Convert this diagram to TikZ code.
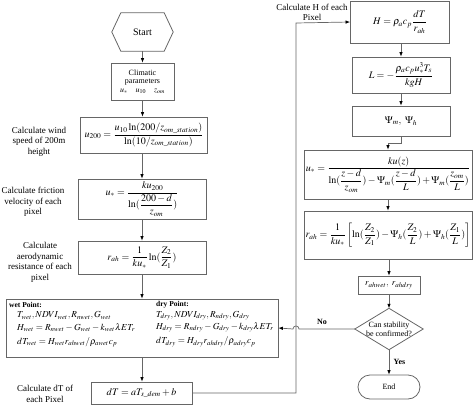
\documentclass[tikz,border=0pt]{standalone}
\usepackage{amsmath}
\usepackage{mathptmx}
\usepackage[no-math]{fontspec}
\setmainfont{Liberation Serif}
\usetikzlibrary{arrows.meta}
\begin{document}
\begin{tikzpicture}[x=1pt,y=-1pt,
 box/.style={draw=black!60, line width=0.8pt, inner sep=0pt, align=center, font=\fontsize{10}{12}\selectfont},
 lab/.style={align=center, font=\fontsize{9}{10.5}\selectfont, inner sep=0pt},
 txt/.style={anchor=west, inner sep=0pt, font=\fontsize{9.2}{11}\selectfont},
 arr/.style={draw=black!60, line width=0.7pt, -{Latex[length=4.5pt,width=3.5pt,color=black]}},
 ln/.style={draw=black!60, line width=0.8pt}]
\useasboundingbox (0,0) rectangle (474,415);

% left column
\node[inner sep=0pt, minimum width=61pt, minimum height=38pt, font=\fontsize{10}{12}\selectfont] (start) at (142.5,32) {Start};
\draw[ln] (start.west) -- ([xshift=9pt]start.north west) -- ([xshift=-9pt]start.north east) -- (start.east) -- ([xshift=-9pt]start.south east) -- ([xshift=9pt]start.south west) -- cycle;

\node[box, minimum width=63pt, minimum height=37pt, font=\fontsize{8}{8.5}\selectfont] (clim) at (142.5,81.5) {Climatic\\parameters\\$u_*\quad u_{10}\quad z_{om}$};

\node[box, minimum width=127pt, minimum height=36pt] (u200) at (144,135) {$u_{200} = \dfrac{u_{10}\ln(200/z_{om\_station})}{\ln(10/z_{om\_station})}$};

\node[box, minimum width=128pt, minimum height=40pt] (ustar) at (142,199) {$u_* = \dfrac{ku_{200}}{\ln(\dfrac{200-d}{z_{om}})}$};

\node[box, minimum width=128pt, minimum height=33pt] (rah) at (142,257.5) {$r_{ah} = \dfrac{1}{ku_*}\ln(\dfrac{Z_2}{Z_1})$};

\node[box, minimum width=272pt, minimum height=58pt] (wd) at (142,328) {};
\node[txt, font=\fontsize{7.5}{9}\selectfont\bfseries] (wetp) at (9,305) {wet Point:};
\node[txt] (w1) at (17,315.5) {$T_{wet}, NDVI_{wet}, R_{nwet}, G_{wet}$};
\node[txt] (w2) at (17,327.5) {$H_{wet} = R_{nwet} - G_{wet} - k_{wet}\lambda ET_r$};
\node[txt] (w3) at (17,342) {$dT_{wet} = H_{wet}r_{ahwet} / \rho_{awet}c_p$};
\node[txt, font=\fontsize{7.5}{9}\selectfont\bfseries] (dryp) at (156,305) {dry Point:};
\node[txt] (d1) at (156,315.5) {$T_{dry}, NDVI_{dry}, R_{ndry}, G_{dry}$};
\node[txt] (d2) at (156,327.5) {$H_{dry} = R_{ndry} - G_{dry} - k_{dry}\lambda ET_r$};
\node[txt] (d3) at (156,342) {$dT_{dry} = H_{dry}r_{ahdry} / \rho_{adry}c_p$};

\node[box, minimum width=101pt, minimum height=22pt] (dT) at (141.5,393) {$dT = aT_{s\_dem} + b$};

% side labels
\node[lab] (l1) at (39,141.5) {Calculate wind\\speed of 200m\\height};
\node[lab] (l2) at (33,202) {Calculate friction\\velocity of each\\pixel};
\node[lab] (l3) at (40,262.5) {Calculate\\aerodynamic\\resistance of each\\pixel};
\node[lab] (l4) at (45,394) {Calculate dT of\\each Pixel};
\node[lab] (l5) at (312,12.5) {Calculate H of each\\Pixel};

% right column
\node[box, minimum width=99pt, minimum height=42pt] (H) at (400,22) {$H = \rho_a c_p \dfrac{dT}{r_{ah}}$};
\node[box, minimum width=98pt, minimum height=36pt] (L) at (401,75) {$L = -\dfrac{\rho_a c_p u_*^3 T_s}{kgH}$};
\node[box, minimum width=98pt, minimum height=30pt] (psi) at (401,121) {$\Psi_m,\ \Psi_h$};
\node[box, minimum width=168pt, minimum height=49pt] (ustar2) at (388,174.5) {$u_* = \dfrac{ku(z)}{\ln(\dfrac{z-d}{z_{om}}) - \Psi_m(\dfrac{z-d}{L}) + \Psi_m(\dfrac{z_{om}}{L})}$};
\node[box, minimum width=168pt, minimum height=48pt] (rah2) at (388,235) {$r_{ah} = \dfrac{1}{ku_*}\left[\ln(\dfrac{Z_2}{Z_1}) - \Psi_h(\dfrac{Z_2}{L}) + \Psi_h(\dfrac{Z_1}{L})\right]$};
\node[box, minimum width=62pt, minimum height=18pt, font=\fontsize{9}{10}\selectfont] (rw) at (389,285) {$r_{ahwet},\ r_{ahdry}$};
\node[inner sep=0pt, minimum width=68pt, minimum height=41pt, align=center, font=\fontsize{8}{9}\selectfont] (dia) at (389,329) {Can stability\\be confirmed?};
\draw[ln] (dia.north) -- (dia.east) -- (dia.south) -- (dia.west) -- cycle;
\node[box, minimum width=62pt, minimum height=24pt, rounded corners=12pt, font=\fontsize{8}{9}\selectfont] (end) at (389,387) {End};

% connectors
\draw[arr] (start.south) -- (clim.north);
\draw[arr] (clim.south) -- (clim.south |- u200.north);
\draw[arr] (u200.south -| ustar.north) -- (ustar.north);
\draw[arr] (ustar.south) -- (rah.north);
\draw[arr] (rah.south) -- (wd.north);
\draw[arr] (wd.south) -- (wd.south |- dT.north);
\coordinate (lp) at (296,23);
\draw[arr] (dT.east) -| (lp) -- (H.west);
\draw[arr] (H.south -| L.north) -- (L.north);
\draw[arr] (L.south) -- (psi.north);
\draw[arr] (psi.south) -- ++(0,7) -| (ustar2.north);
\draw[arr] (ustar2.south) -- (rah2.north);
\draw[arr] (rah2.south -| rw.north) -- (rw.north);
\draw[arr] (rw.south) -- (dia.north);
\draw[arr] (dia.south) -- (end.north) node[midway, right=1pt, font=\fontsize{8}{9}\selectfont\bfseries] (yes) {Yes};
\coordinate (j1) at (299,329);
\coordinate (j2) at (293,329);
\draw[arr] (dia.west) -- (j1) .. controls (299,325) and (293,325) .. (j2) -- (wd.east);
\node[font=\fontsize{8}{9}\selectfont\bfseries, inner sep=0pt] (no) at (322,322) {No};
\end{tikzpicture}
\end{document}
